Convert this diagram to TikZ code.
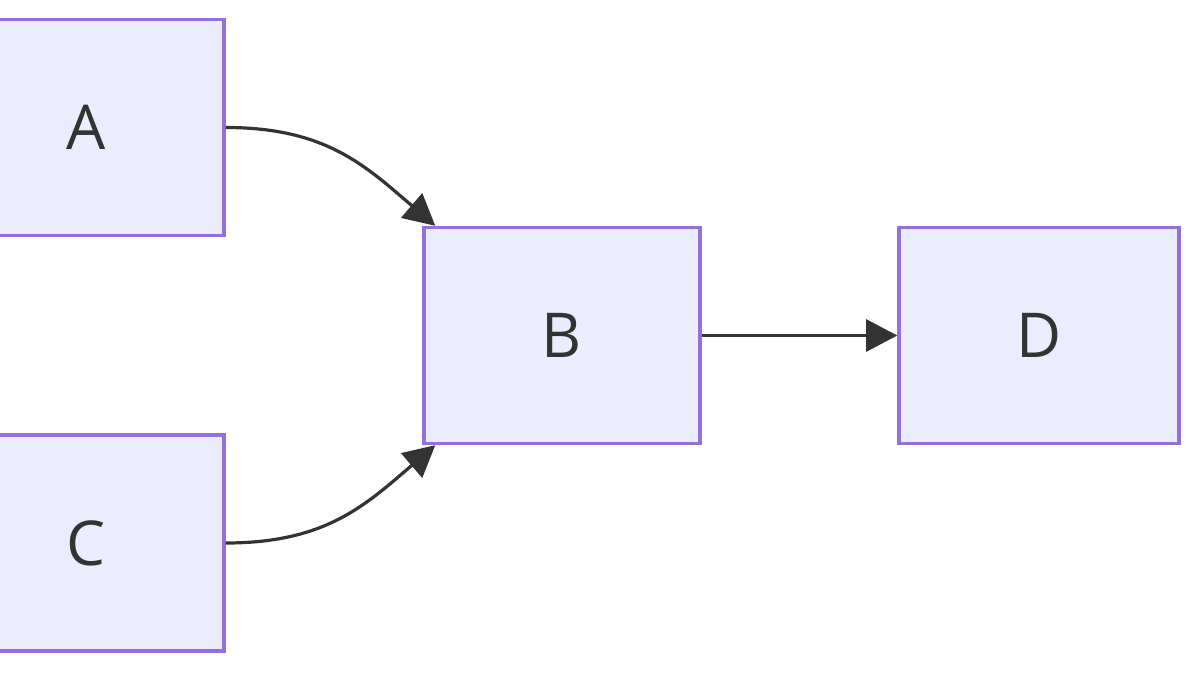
\documentclass[tikz,border=0pt]{standalone}
\usepackage{fontspec}
\setmainfont{Open Sans}
\usetikzlibrary{positioning, calc, arrows.meta}
\definecolor{nodofill}{HTML}{ECECFF}
\definecolor{nodobordo}{HTML}{9370DB}
\definecolor{testo}{HTML}{333333}
\tikzset{
  nodo/.style={draw=nodobordo, fill=nodofill, line width=0.085cm, minimum width=6.9cm, minimum height=5.4cm, inner sep=0pt, text=testo, font=\fontsize{44}{48}\selectfont},
  freccia/.style={draw=testo, line width=0.08cm, -{Triangle[length=0.78cm,width=0.8cm]}}
}

\begin{document}
\begin{tikzpicture}[x=0.025cm, y=-0.025cm]
        %bordo
        \useasboundingbox (0,0) rectangle (1200,675);
        %disegno nodi
        \node[nodo] (A) at (86,127.5) {A};
        \node[nodo] (C) at (86,543) {C};
        \node[nodo] (B) at (562,335.5) {B};
        \node[nodo, minimum width=7cm] (D) at (1039,335.5) {D};
        %punte
        \coordinate (BinA) at ($(B.north west)+(13,0)$);
        \coordinate (BinC) at ($(B.south west)+(13,0)$);
        %disegno frecce
        \draw[freccia] (A.east) .. controls +(100,0) and +(-70,-60) .. (BinA);
        \draw[freccia] (C.east) .. controls +(100,0) and +(-70,60) .. (BinC);
        \draw[freccia] (B.east) -- (D.west);
    \end{tikzpicture}
\end{document}
